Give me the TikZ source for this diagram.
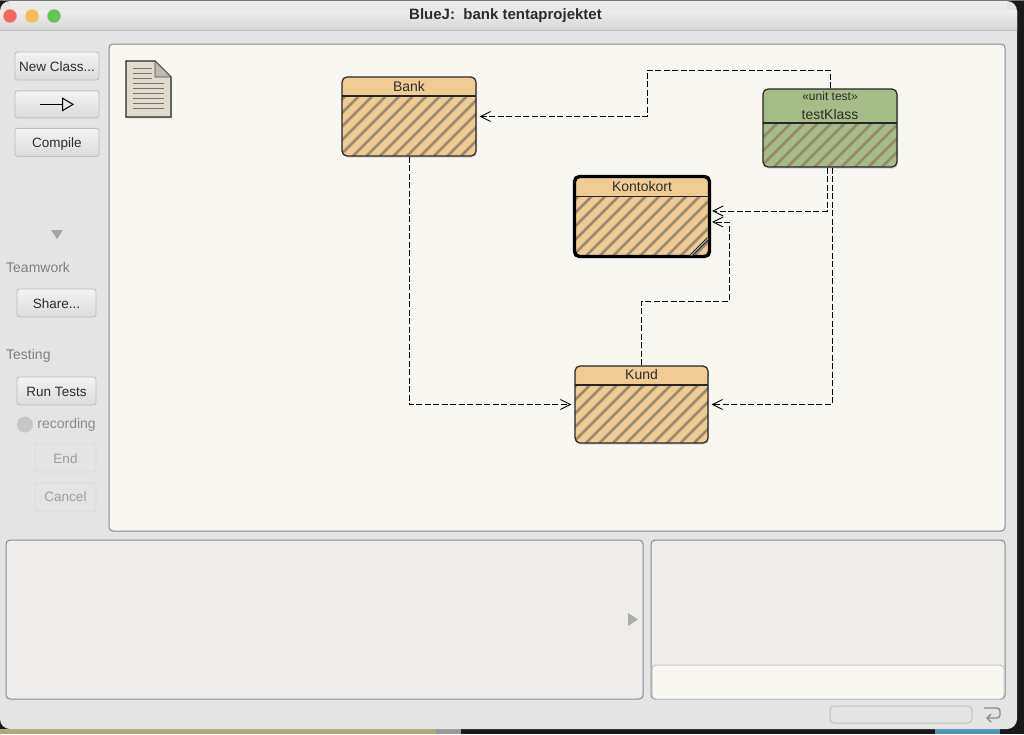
\documentclass[tikz,border=0pt]{standalone}
\usepackage{fontspec}
\setmainfont{Liberation Sans}
\usepackage{tikz}
\usetikzlibrary{positioning,arrows.meta,shadows,calc}
\definecolor{classfill} {RGB} {240,204,148}
\definecolor{testfill} {RGB} {166,188,135}
\definecolor{hatchgray} {RGB} {150,132,108}
\definecolor{canvasfill} {RGB} {248,247,242}
\definecolor{panelfill} {RGB} {238,237,233}
\definecolor{windowfill} {RGB} {228,228,228}
\definecolor{framegray} {RGB} {136,136,136}
\definecolor{notefill} {RGB} {224,219,204}
\definecolor{inktext} {RGB} {45,45,45}
\definecolor{desktopolive} {RGB} {174,169,117}
\definecolor{desktopblue} {RGB} {75,149,184}
\definecolor{lightred} {RGB} {240,104,95}
\definecolor{lightyellow} {RGB} {247,189,79}
\definecolor{lightgreen} {RGB} {98,197,84}
\newcommand{\pxfont}[1]{\fontsize{#1pt}{#1pt}\selectfont}
\tikzset{
    classbox/.style 2 args={rectangle, draw = black!85, line width = 1.2pt, rounded corners = 5pt,
        inner sep = 0pt, fill = #2, text = inktext,
        drop shadow = {shadow xshift = 1pt, shadow yshift = -1.5pt, opacity = 0.3},
        path picture = {
            \foreach \d in {3,16.5,...,246}
                \draw[hatchline] ([xshift = \d pt - 100pt]path picture bounding box.south west) -- ++(140,-140);
            \fill[#2] (path picture bounding box.north west) rectangle ([yshift = -#1pt]path picture bounding box.north east);
            \draw[black!85, line width = 1.1pt] ([yshift = -#1pt]path picture bounding box.north west) -- ([yshift = -#1pt]path picture bounding box.north east);
        }},
    hatchline/.style = {hatchgray, line width = 1.8pt,
        preaction = {draw, hatchgray, draw opacity = 0.3, line width = 3.8pt}},
    classname/.style = {font = \pxfont{14}, text = inktext, inner sep = 0pt},
    dep/.style = {black, line width = 0.9pt, dash pattern = on 6pt off 2.5pt, shorten > = 3pt,
        -{Straight Barb[length = 10pt, width = 10pt, line width = 0.9pt]}},
    toolbtn/.style = {rectangle, draw = black!25, line width = 0.9pt, rounded corners = 2.5pt,
        top color = black!5, bottom color = black!14, text = inktext, font = \pxfont{13.5},
        minimum height = 28pt, inner sep = 0pt, text height = 10pt, text depth = 0pt},
    offbtn/.style = {toolbtn, top color = windowfill, bottom color = windowfill, draw = black!15, text = black!38},
    sidelabel/.style = {font = \pxfont{14}, text = black!50, inner sep = 0pt},
    pane/.style = {rectangle, draw = framegray, line width = 1pt, rounded corners = 4pt, inner sep = 0pt}
}
\begin{document}
\begin{tikzpicture}[x = 1pt, y = -1pt]
    \useasboundingbox (0,0) rectangle (1024,734);
    % what shows round the window
    \fill[black!90] (0,0) rectangle (1024,734);
    \fill[black!55] (0,0) rectangle (1024,1);
    \fill[desktopolive] (0,729) rectangle (436,734);
    \fill[black!40] (436,729) rectangle (461,734);
    \fill[desktopblue] (935,729) rectangle (1000,734);
    % window and title bar
    \fill[windowfill, rounded corners = 10pt] (0,1) rectangle (1017,729);
    \shade[top color = black!7, bottom color = black!16, rounded corners = 10pt, sharp corners] (10,1) rectangle (1007,30);
    \shade[top color = black!7, bottom color = black!16] (0,10) rectangle (1017,30);
    \draw[black!25, line width = 0.8pt] (0,30.5) -- (1017,30.5);
    \fill[lightred] (10,16) circle (6.7);
    \fill[lightyellow] (32,16) circle (6.7);
    \fill[lightgreen] (54,16) circle (6.7);
    \node[font = \pxfont{15}\bfseries, text = inktext, inner sep = 0pt] (title) at (505.5,15.5) {BlueJ:\ \ bank tentaprojektet};

    % panes
    \node[pane, fill = canvasfill, minimum width = 896pt, minimum height = 487pt] (canvas) at (557,287.5) {};
    \node[pane, fill = panelfill, minimum width = 637pt, minimum height = 159pt] (terminal) at (324.5,619.5) {};
    \node[pane, fill = panelfill, minimum width = 354pt, minimum height = 159pt] (codepad) at (828,619.5) {};
    \node[pane, fill = canvasfill, draw = black!22, minimum width = 352pt, minimum height = 34pt] (codeinput) at (828,682) {};
    \node[pane, fill = windowfill, draw = black!25, minimum width = 142pt, minimum height = 17pt] (statusbox) at (901,714.5) {};
    \fill[black!32] (628,613) -- (638,619.5) -- (628,626) -- cycle;
    \draw[black!45, line width = 1.4pt, rounded corners = 3pt, -{Straight Barb[length = 4pt, width = 8pt]}] (984,708) -- (1000,708) -- (1000,718) -- (986,718);

    % left tool column
    \node[toolbtn, minimum width = 84pt] (newclass) at (57,66) {New Class...};
    \node[toolbtn, minimum width = 84pt, minimum height = 27pt, below = 10pt of newclass] (arrowbtn) {};
    \node[toolbtn, minimum width = 84pt, below = 9.5pt of arrowbtn] (compile) {Compile};
    \draw[black, line width = 1pt, -{Triangle[open, length = 12pt, width = 14pt]}] ([xshift = -17pt]arrowbtn.center) -- ([xshift = 17pt]arrowbtn.center);
    \fill[black!35] (51,230) -- (63,230) -- (57,239) -- cycle;
    \node[sidelabel, anchor = west] (teamwork) at (6,267) {Teamwork};
    \node[toolbtn, minimum width = 79pt] (share) at (56.5,303) {Share...};
    \node[sidelabel, anchor = west] (testing) at (6,355.5) {Testing};
    \node[toolbtn, minimum width = 79pt] (runtests) at (56.5,391) {Run Tests};
    \node[circle, fill = black!22, minimum size = 16pt, inner sep = 0pt] (recdot) at (25,424.5) {};
    \node[sidelabel, right = 4pt of recdot, text = black!45] (recording) {recording};
    \node[offbtn, minimum width = 61pt] (endbtn) at (65.5,458) {End};
    \node[offbtn, minimum width = 61pt, below = 10pt of endbtn] (cancel) {Cancel};

    % note icon
    \draw[black!85, line width = 1.1pt, fill = notefill, drop shadow = {shadow xshift = 1pt, shadow yshift = -1.5pt, opacity = 0.3}]
        (126,61) -- (155,61) -- (171,77) -- (171,117) -- (126,117) -- cycle;
    \draw[black!70, line width = 0.6pt, fill = notefill!85!black] (155,61) -- (155,77) -- (171,77) -- cycle;
    \foreach \y in {68,73,78}
        \draw[black!55, line width = 0.8pt] (133,\y) -- (152,\y);
    \foreach \y in {83,88,...,108}
        \draw[black!55, line width = 0.8pt] (133,\y) -- (164,\y);

    % classes
    \node[classbox = {19}{classfill}, minimum width = 134pt, minimum height = 79pt] (bank) at (409,116.5) {};
    \node[classname, below = 5pt of bank.north] (bankname) {Bank};
    \node[classbox = {20}{classfill}, line width = 3.4pt, draw = black, minimum width = 135pt, minimum height = 80pt] (kontokort) at (642,216.5) {};
    \node[classname, below = 6pt of kontokort.north] (kontokortname) {Kontokort};
    \node[classbox = {19}{classfill}, minimum width = 133pt, minimum height = 77pt] (kund) at (641.5,404.5) {};
    \node[classname, below = 4pt of kund.north] (kundname) {Kund};
    \node[classbox = {34}{testfill}, minimum width = 134pt, minimum height = 78pt] (testklass) at (830,128) {};
    \node[classname, below = 21pt of testklass.north] (testklassname) {testKlass};
    \node[classname, font = \pxfont{12}, below = 3.5pt of testklass.north] (testklasstag) {«unit test»};

    % resize handle
    \coordinate (gripa) at (691,255.5);
    \coordinate (gripb) at (708,238.5);
    \draw[black!85, line width = 3pt] (gripa) -- (gripb);
    \draw[canvasfill!75!black, line width = 1pt] (gripa) -- (gripb);

    % dependencies
    \coordinate (bankturn) at (647,70);
    \coordinate (kundturn) at (729,301);
    \draw[dep] (testklass.north) |- (bankturn) |- (bank.east);
    \draw[dep] (bank.south) |- (kund.west);
    \draw[dep, shorten > = 1pt] (kund.north) |- (kundturn) |- ([yshift = -5.5pt]kontokort.east);
    \draw[dep, shorten > = 1pt] ([xshift = -3pt]testklass.south) |- ([yshift = 5.5pt]kontokort.east);
    \draw[dep] ([xshift = 2pt]testklass.south) |- (kund.east);
\end{tikzpicture}
\end{document}
